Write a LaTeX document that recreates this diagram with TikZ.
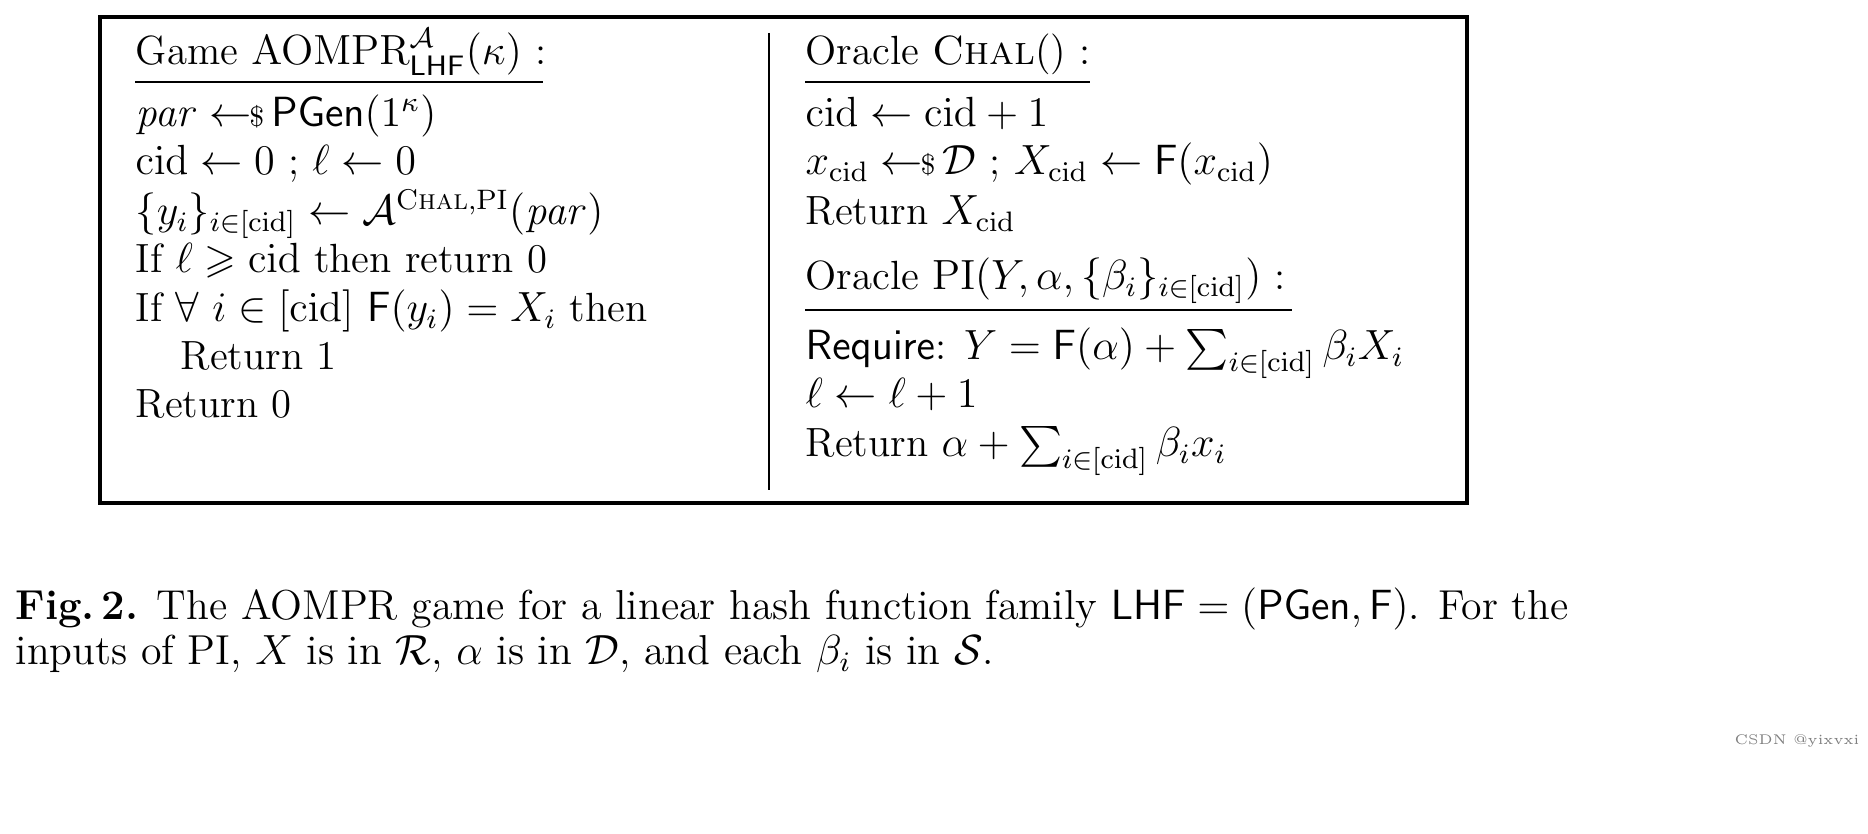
\documentclass[tikz,border=0pt]{standalone}
\usepackage{amsmath,amssymb}
\newcommand{\smp}{\leftarrow\!\!{\scriptstyle\$}\,}
\newcommand{\cid}{\mathrm{cid}}
\begin{document}
\begin{tikzpicture}[x=0.01cm,y=-0.01cm,
  t/.style={anchor=base west,inner sep=0pt,font=\fontsize{11.6}{14}\selectfont},
  c/.style={anchor=base west,inner sep=0pt,font=\fontsize{11.9}{14}\selectfont}]
\useasboundingbox (0,0) rectangle (1868,834);
\draw[line width=1pt] (100,17) rectangle (1467,503);
\draw[line width=0.8pt] (769,33) -- (769,490);
\node[t] (g) at (135,65) {Game $\mathrm{AOMPR}^{\mathcal A}_{\mathsf{LHF}}(\kappa)$ :};
\draw[line width=0.7pt] (135,82) -- (543,82);
\node[t] (l1) at (135,127) {$\mathit{par}\smp\mathsf{PGen}(1^\kappa)$};
\node[t] (l2) at (135,175) {$\cid\leftarrow 0$ ; $\ell\leftarrow 0$};
\node[t] (l3) at (135,225) {$\{y_i\}_{i\in[\cid]}\leftarrow\mathcal{A}^{\textsc{Chal},\mathrm{PI}}(\mathit{par})$};
\node[t] (l4) at (135,273) {If $\ell\geqslant\cid$ then return 0};
\node[t] (l5) at (135,322) {If $\forall\ i\in[\cid]\ \mathsf{F}(y_i)=X_i$ then};
\node[t] (l6) at (180,370) {Return 1};
\node[t] (l7) at (135,418) {Return 0};
\node[t] (o1) at (805,65) {Oracle \textsc{Chal}() :};
\draw[line width=0.7pt] (805,82) -- (1090,82);
\node[t] (r1) at (805,127) {$\cid\leftarrow\cid+1$};
\node[t] (r2) at (805,175) {$x_{\cid}\smp\mathcal{D}$ ; $X_{\cid}\leftarrow\mathsf{F}(x_{\cid})$};
\node[t] (r3) at (805,225) {Return $X_{\cid}$};
\node[t] (o2) at (805,290) {Oracle $\mathrm{PI}(Y,\alpha,\{\beta_i\}_{i\in[\cid]})$ :};
\draw[line width=0.7pt] (805,310) -- (1292,310);
\node[t] (r4) at (805,360) {$\mathsf{Require}$: $Y=\mathsf{F}(\alpha)+\sum_{i\in[\cid]}\beta_iX_i$};
\node[t] (r5) at (805,408) {$\ell\leftarrow\ell+1$};
\node[t] (r6) at (805,457) {Return $\alpha+\sum_{i\in[\cid]}\beta_ix_i$};
\node[c] (cap1) at (15,620) {\textbf{Fig.\,2.} The AOMPR game for a linear hash function family $\mathsf{LHF}=(\mathsf{PGen},\mathsf{F})$. For the};
\node[c] (cap2) at (15,665) {inputs of PI, $X$ is in $\mathcal{R}$, $\alpha$ is in $\mathcal{D}$, and each $\beta_i$ is in $\mathcal{S}$.};
\node[anchor=base east,inner sep=0pt,font=\fontsize{4}{5}\selectfont,gray] (wm) at (1860,745) {CSDN @yixvxi};
\end{tikzpicture}
\end{document}
